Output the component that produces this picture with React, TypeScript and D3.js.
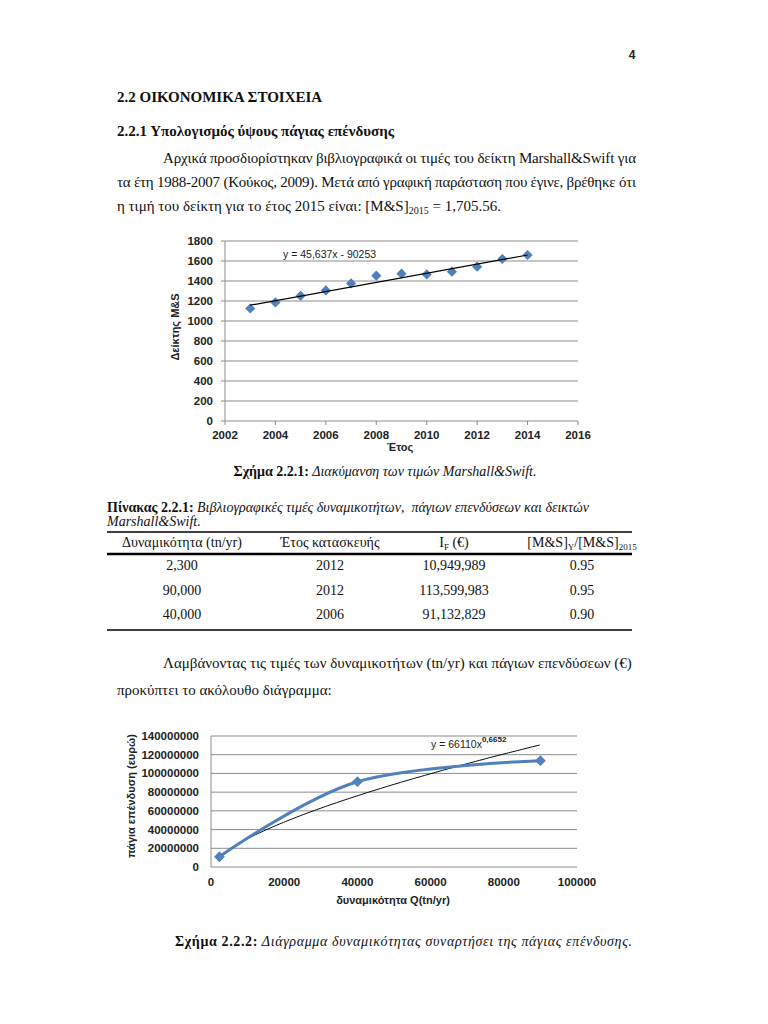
import React from "react";
import * as d3 from "d3";

// ---------- Chart 1 data ----------
const years = [2003, 2004, 2005, 2006, 2007, 2008, 2009, 2010, 2011, 2012, 2013, 2014];
const msIndex = [1125, 1186, 1252, 1306, 1376, 1453, 1473, 1466, 1493, 1543, 1620, 1660];
const trendSlope = 45.637;
const trendIntercept = -90253;
const yearTicks = [2002, 2004, 2006, 2008, 2010, 2012, 2014, 2016];
const indexTicks = [0, 200, 400, 600, 800, 1000, 1200, 1400, 1600, 1800];

// ---------- Chart 2 data ----------
const capacity = [2300, 40000, 90000];
const investment = [10949989, 91132829, 113599983];
const powerCoef = 66110;
const powerExp = 0.6652;
const capTicks = [0, 20000, 40000, 60000, 80000, 100000];
const invTicks = [0, 20000000, 40000000, 60000000, 80000000, 100000000, 120000000, 140000000];

// ---------- Table data ----------
const colCapacity = ["2,300", "90,000", "40,000"];
const colYear = ["2012", "2012", "2006"];
const colIF = ["10,949,989", "113,599,983", "91,132,829"];
const colRatio = ["0.95", "0.95", "0.90"];

const SERIF = "'Liberation Serif', 'Times New Roman', serif";
const SANS = "'Liberation Sans', Arial, sans-serif";
const BLUE = "#4F81BD";
const GRID = "#8c8c8c";

const diamondPath = (size: number) => d3.symbol().type(d3.symbolSquare).size(size)() || "";

function Chart1() {
  const x = d3.scaleLinear().domain([2002, 2016]).range([225, 578]);
  const y = d3.scaleLinear().domain([0, 1800]).range([421, 241]);
  const x0 = years[0], x1 = years[years.length - 1];
  const diamond = diamondPath(52);
  return (
    <g fontFamily={SANS}>
      {indexTicks.map((t) => (
        <g key={t}>
          <line x1={221} x2={578} y1={y(t)} y2={y(t)} stroke={GRID} strokeWidth={1} />
          <text x={213} y={y(t) + 4} textAnchor="end" fontSize={11.5} fontWeight="bold" fill="#222">{t}</text>
        </g>
      ))}
      <line x1={x(2002)} x2={x(2002)} y1={y(0)} y2={y(1800)} stroke={GRID} strokeWidth={1} />
      {yearTicks.map((t) => (
        <g key={t}>
          <line x1={x(t)} x2={x(t)} y1={y(0)} y2={y(0) + 4} stroke={GRID} />
          <text x={x(t)} y={y(0) + 18} textAnchor="middle" fontSize={11.5} fontWeight="bold" fill="#222">{t}</text>
        </g>
      ))}
      <text x={400} y={451} textAnchor="middle" fontSize={11} fontWeight="bold" fill="#222">Έτος</text>
      <text transform="translate(179,327) rotate(-90)" textAnchor="middle" fontSize={11} fontWeight="bold" fill="#222">Δείκτης M&amp;S</text>
      {years.map((yr, i) => (
        <path key={yr} d={diamond} transform={`translate(${x(yr)},${y(msIndex[i])}) rotate(45)`} fill={BLUE} />
      ))}
      <line
        x1={x(x0)} y1={y(trendSlope * x0 + trendIntercept)}
        x2={x(x1)} y2={y(trendSlope * x1 + trendIntercept)}
        stroke="#000" strokeWidth={1.2}
      />
      <text x={283} y={258} fontSize={10.5} fill="#222">y = 45,637x - 90253</text>
    </g>
  );
}

function Chart2() {
  const x = d3.scaleLinear().domain([0, 100000]).range([211, 577]);
  const y = d3.scaleLinear().domain([0, 140000000]).range([867, 736]);
  const pts: [number, number][] = capacity.map((c, i) => [x(c), y(investment[i])]);
  const smooth = d3.line().curve(d3.curveCardinal.tension(0))(pts) || "";
  const trendX = d3.range(capacity[0], capacity[capacity.length - 1] + 1, 500);
  const trendPts: [number, number][] = trendX.map((q) => [x(q), y(powerCoef * Math.pow(q, powerExp))]);
  const trend = d3.line()(trendPts) || "";
  const diamond = diamondPath(58);
  return (
    <g fontFamily={SANS}>
      {invTicks.map((t) => (
        <g key={t}>
          <line x1={x(0)} x2={577} y1={y(t)} y2={y(t)} stroke={GRID} strokeWidth={1} />
          <text x={199} y={y(t) + 4} textAnchor="end" fontSize={11.5} fontWeight="bold" fill="#222">{t}</text>
        </g>
      ))}
      <line x1={x(0)} x2={x(0)} y1={y(0)} y2={y(140000000)} stroke={GRID} strokeWidth={1} />
      {capTicks.map((t) => (
        <text key={t} x={x(t)} y={886} textAnchor="middle" fontSize={11.5} fontWeight="bold" fill="#222">{t}</text>
      ))}
      <text x={393} y={904} textAnchor="middle" fontSize={11} fontWeight="bold" fill="#222">δυναμικότητα Q(tn/yr)</text>
      <text
        transform="translate(135,796) rotate(-90)"
        textAnchor="middle" fontSize={11} fontWeight="bold" fill="#222"
      >πάγια επένδυση (ευρώ)</text>
      <path d={trend} fill="none" stroke="#000" strokeWidth={1} />
      <path d={smooth} fill="none" stroke={BLUE} strokeWidth={3} />
      {pts.map((p, i) => (
        <path key={i} d={diamond} transform={`translate(${p[0]},${p[1]}) rotate(45)`} fill={BLUE} />
      ))}
      <text x={431} y={748} fontSize={10.5} fill="#222">
        y = 66110x<tspan dy={-6} fontSize={8} fontWeight="bold">0,6652</tspan>
      </text>
    </g>
  );
}

function Table() {
  const cols = [182, 330, 454, 582];
  const rowsY = [570, 595, 619];
  const rows = colCapacity.map((c, i) => [c, colYear[i], colIF[i], colRatio[i]]);
  return (
    <g fontFamily={SERIF} fontSize={14} fill="#111">
      <text x={107} y={512} fontSize={14}>
        <tspan fontWeight="bold">Πίνακας 2.2.1:</tspan>
        <tspan fontStyle="italic"> Βιβλιογραφικές τιμές δυναμικοτήτων,&#160; πάγιων επενδύσεων και δεικτών</tspan>
      </text>
      <text x={107} y={526} fontStyle="italic">Marshall&amp;Swift.</text>
      <line x1={107} x2={632} y1={532} y2={532} stroke="#000" strokeWidth={1.5} />
      <text x={cols[0]} y={547} textAnchor="middle">Δυναμικότητα (tn/yr)</text>
      <text x={cols[1]} y={547} textAnchor="middle">Έτος κατασκευής</text>
      <text x={cols[2]} y={547} textAnchor="middle">
        I<tspan fontSize={9} dy={3}>F</tspan><tspan dy={-3}> (€)</tspan>
      </text>
      <text x={cols[3]} y={547} textAnchor="middle">
        [M&amp;S]<tspan fontSize={9} dy={3}>Y</tspan><tspan dy={-3}>/[M&amp;S]</tspan><tspan fontSize={9} dy={3}>2015</tspan>
      </text>
      <line x1={107} x2={632} y1={554} y2={554} stroke="#000" strokeWidth={2.5} />
      {rows.map((r, i) =>
        r.map((v, j) => (
          <text key={`${i}-${j}`} x={cols[j]} y={rowsY[i]} textAnchor="middle">{v}</text>
        ))
      )}
      <line x1={107} x2={632} y1={630} y2={630} stroke="#000" strokeWidth={1.5} />
    </g>
  );
}

export default function App() {
  return (
    <svg
      width={768}
      height={1024}
      viewBox="0 0 768 1024"
      style={{ position: "absolute", left: 0, top: 0, background: "#fff" }}
    >
      <rect x={0} y={0} width={768} height={1024} fill="#fff" />
      <text x={632} y={59} fontFamily={SANS} fontSize={12} fontWeight="bold" textAnchor="middle" fill="#222">4</text>
      <g fontFamily={SERIF} fill="#111">
        <text x={117} y={102} fontSize={15} fontWeight="bold">2.2 ΟΙΚΟΝΟΜΙΚΑ ΣΤΟΙΧΕΙΑ</text>
        <text x={117} y={136} fontSize={15} fontWeight="bold">2.2.1 Υπολογισμός ύψους πάγιας επένδυσης</text>
        <text x={163} y={163} fontSize={15} textLength={473} lengthAdjust="spacing">
          Αρχικά προσδιορίστηκαν βιβλιογραφικά οι τιμές του δείκτη Marshall&amp;Swift για
        </text>
        <text x={117} y={187} fontSize={15} textLength={519} lengthAdjust="spacing">
          τα έτη 1988-2007 (Κούκος, 2009). Μετά από γραφική παράσταση που έγινε, βρέθηκε ότι
        </text>
        <text x={117} y={211} fontSize={15}>
          η τιμή του δείκτη για το έτος 2015 είναι: [M&amp;S]<tspan fontSize={10} dy={3}>2015</tspan><tspan dy={-3}> = 1,705.56.</tspan>
        </text>
        <text x={385} y={476} fontSize={14} textAnchor="middle">
          <tspan fontWeight="bold">Σχήμα 2.2.1:</tspan>
          <tspan fontStyle="italic"> Διακύμανση των τιμών Marshall&amp;Swift.</tspan>
        </text>
        <text x={163} y={668} fontSize={15}>
          Λαμβάνοντας τις τιμές των δυναμικοτήτων (tn/yr) και πάγιων επενδύσεων (€)
        </text>
        <text x={117} y={695} fontSize={15}>προκύπτει το ακόλουθο διάγραμμα:</text>
        <text x={175} y={946} fontSize={14} textLength={457} lengthAdjust="spacing">
          <tspan fontWeight="bold">Σχήμα 2.2.2:</tspan>
          <tspan fontStyle="italic"> Διάγραμμα δυναμικότητας συναρτήσει της πάγιας επένδυσης.</tspan>
        </text>
      </g>
      <Chart1 />
      <Table />
      <Chart2 />
    </svg>
  );
}
